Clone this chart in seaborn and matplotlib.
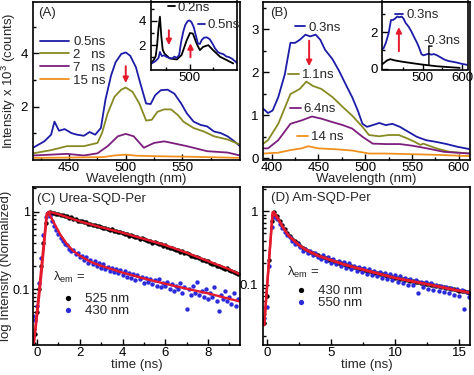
import matplotlib
matplotlib.use("Agg")
import numpy as np
import matplotlib.pyplot as plt
import seaborn as sns
from matplotlib.legend import Legend
from matplotlib.ticker import FixedLocator, MultipleLocator, LogLocator, NullFormatter

# ---------------- data: panel A (Urea-SQD-Per spectra) ----------------
wl_a_05 = [418, 428, 434, 437, 441, 446, 452, 457, 463, 468, 473, 478, 482, 487, 491, 496, 500, 504,
           509, 513, 518, 522, 526, 531, 537, 543, 549, 554, 560, 566, 572, 578, 584, 590, 596, 601]
int_a_05 = [0.46, 0.70, 0.95, 1.44, 1.10, 1.16, 1.01, 0.95, 0.91, 1.05, 0.95, 1.20, 2.25, 3.17, 3.67, 3.98,
            4.04, 3.91, 3.48, 2.86, 2.12, 2.10, 2.43, 2.62, 2.64, 2.49, 2.12, 1.75, 1.44, 1.32, 1.26, 1.07,
            1.01, 0.89, 0.70, 0.52]
wl_a_2 = [418, 434, 448, 463, 475, 479, 484, 490, 496, 500, 506, 512, 518, 523, 528, 534, 540, 546,
          551, 560, 569, 578, 590, 601]
int_a_2 = [0.25, 0.37, 0.52, 0.52, 0.64, 1.01, 1.75, 2.37, 2.64, 2.72, 2.56, 2.12, 1.48, 1.51, 1.81, 1.90,
           1.90, 1.69, 1.44, 1.20, 1.07, 0.89, 0.77, 0.58]
wl_a_7 = [418, 448, 463, 475, 484, 493, 500, 507, 516, 525, 534, 543, 554, 572, 590, 601]
int_a_7 = [0.17, 0.23, 0.17, 0.25, 0.52, 0.89, 0.98, 0.89, 0.46, 0.64, 0.70, 0.62, 0.52, 0.33, 0.28, 0.17]
wl_a_15 = [418, 450, 480, 490, 500, 510, 530, 560, 601]
int_a_15 = [0.08, 0.09, 0.11, 0.17, 0.20, 0.16, 0.14, 0.12, 0.08]
# inset A (0.2 ns)
wl_a_02 = [419, 424, 428, 431, 434, 437, 440, 443, 447, 451, 458, 473, 483, 494, 501, 507, 515, 522,
           529, 540, 550, 565, 579, 593]
int_a_02 = [0.49, 0.8, 1.1, 2.0, 3.4, 4.35, 2.7, 1.6, 1.3, 1.15, 0.9, 0.82, 1.18, 2.4, 3.0, 2.96, 2.14,
            1.59, 1.86, 2.0, 1.59, 1.04, 0.77, 0.49]
labels_a = ["0.5ns", "2   ns", "7   ns", "15 ns"]

# ---------------- data: panel B (Am-SQD-Per spectra) ----------------
wl_b_03 = [391, 396, 401, 407, 414, 420, 425, 430, 436, 441, 447, 452, 457, 465, 472, 479, 486, 492,
           497, 502, 508, 515, 522, 529, 537, 544, 555, 565, 576, 587, 598, 612]
int_b_03 = [1.15, 1.05, 1.11, 1.42, 1.95, 2.68, 2.68, 2.75, 2.87, 2.83, 2.87, 2.75, 2.52, 2.30, 2.03,
            1.72, 1.42, 1.11, 0.80, 0.73, 0.77, 0.82, 0.77, 0.80, 0.73, 0.64, 0.50, 0.42, 0.38, 0.33,
            0.27, 0.21]
wl_b_11 = [391, 396, 407, 420, 430, 437, 444, 453, 465, 476, 486, 497, 504, 515, 525, 536, 545, 553,
           559, 562, 576, 590, 612]
int_b_11 = [0.34, 0.42, 0.80, 1.49, 1.61, 1.78, 1.68, 1.61, 1.42, 1.19, 0.99, 0.73, 0.54, 0.51, 0.54,
            0.54, 0.46, 0.38, 0.31, 0.34, 0.23, 0.15, 0.11]
wl_b_64 = [391, 396, 407, 420, 432, 443, 453, 465, 476, 486, 497, 508, 522, 537, 551, 566, 584, 612]
int_b_64 = [0.23, 0.23, 0.42, 0.80, 0.88, 0.97, 0.92, 0.84, 0.77, 0.69, 0.50, 0.34, 0.33, 0.33, 0.29,
            0.23, 0.15, 0.11]
wl_b_14 = [391, 407, 420, 432, 439, 450, 468, 486, 504, 522, 540, 576, 612]
int_b_14 = [0.11, 0.13, 0.19, 0.23, 0.28, 0.23, 0.21, 0.18, 0.11, 0.11, 0.10, 0.08, 0.05]
# inset B (-0.3 ns)
wl_b_m03 = [398, 410, 418, 430, 451, 493, 535, 594]
int_b_m03 = [0.24, 0.45, 0.52, 0.45, 0.37, 0.24, 0.13, 0.04]
labels_b = ["0.3ns", "1.1ns", "6.4ns", "14 ns"]

# ---------------- data: panel C (decays, ns) ----------------
t_c = [-0.2, -0.1, 0.0, 0.1, 0.2, 0.3, 0.4, 0.5, 0.6, 0.7,
       0.8, 0.9, 1.0, 1.1, 1.2, 1.3, 1.4, 1.5, 1.6, 1.7,
       1.8, 1.9, 2.0, 2.1, 2.2, 2.3, 2.4, 2.5, 2.6, 2.7,
       2.8, 2.9, 3.0, 3.1, 3.2, 3.3, 3.4, 3.5, 3.6, 3.7,
       3.8, 3.9, 4.0, 4.1, 4.2, 4.3, 4.4, 4.5, 4.6, 4.7,
       4.8, 4.9, 5.0, 5.1, 5.2, 5.3, 5.4, 5.5, 5.6, 5.7,
       5.8, 5.9, 6.0, 6.1, 6.2, 6.3, 6.4, 6.5, 6.6, 6.7,
       6.8, 6.9, 7.0, 7.1, 7.2, 7.3, 7.4, 7.5, 7.6, 7.7,
       7.8, 7.9, 8.0, 8.1, 8.2, 8.3, 8.4, 8.5, 8.6, 8.7,
       8.8, 8.9, 9.0, 9.1, 9.2, 9.3, 9.4]
c_525 = [0.020, 0.026, 0.05, 0.10, 0.20, 0.40, 0.72, 0.95, 0.98, 0.96,
         0.97, 0.93, 0.94, 0.90, 0.91, 0.87, 0.88, 0.84, 0.85, 0.80,
         0.81, 0.77, 0.76, 0.75, 0.73, 0.74, 0.70, 0.70, 0.67, 0.68,
         0.65, 0.66, 0.63, 0.62, 0.61, 0.60, 0.58, 0.59, 0.56, 0.56,
         0.54, 0.55, 0.53, 0.52, 0.51, 0.49, 0.50, 0.48, 0.47, 0.47,
         0.45, 0.46, 0.44, 0.43, 0.42, 0.42, 0.40, 0.41, 0.39, 0.38,
         0.38, 0.36, 0.37, 0.35, 0.34, 0.34, 0.33, 0.32, 0.32, 0.30,
         0.31, 0.29, 0.29, 0.28, 0.27, 0.27, 0.26, 0.26, 0.25, 0.24,
         0.24, 0.23, 0.23, 0.22, 0.21, 0.21, 0.20, 0.20, 0.195, 0.19,
         0.18, 0.185, 0.175, 0.17, 0.165, 0.16, 0.155]
c_430 = [0.045, 0.040, 0.06, 0.12, 0.25, 0.50, 0.85, 0.97, 0.88, 0.76,
         0.66, 0.58, 0.52, 0.46, 0.42, 0.38, 0.37, 0.33, 0.31, 0.32,
         0.28, 0.29, 0.26, 0.27, 0.24, 0.26, 0.22, 0.235, 0.21, 0.23,
         0.20, 0.215, 0.19, 0.21, 0.18, 0.195, 0.17, 0.19, 0.165, 0.18,
         0.16, 0.175, 0.15, 0.17, 0.145, 0.16, 0.14, 0.155, 0.13, 0.15,
         0.135, 0.145, 0.12, 0.14, 0.125, 0.135, 0.115, 0.13, 0.11, 0.135,
         0.105, 0.12, 0.11, 0.125, 0.10, 0.115, 0.095, 0.11, 0.10, 0.12,
         0.09, 0.105, 0.056, 0.10, 0.085, 0.11, 0.09, 0.125, 0.085, 0.095,
         0.08, 0.10, 0.075, 0.09, 0.08, 0.105, 0.07, 0.052, 0.085, 0.075,
         0.095, 0.07, 0.08, 0.065, 0.09, 0.06, 0.075]
tfit_c525 = [-0.15, 0.0, 0.15, 0.3, 0.45, 0.55, 1, 2, 3, 4, 5, 6, 7, 8, 9, 9.5]
fit_c525 = [0.02, 0.045, 0.11, 0.3, 0.85, 1.0, 0.93, 0.75, 0.63, 0.535, 0.445, 0.37, 0.295, 0.23, 0.18, 0.155]
tfit_c430 = [-0.15, 0.45, 0.55, 0.7, 0.9, 1.1, 1.4, 1.7, 2.0, 2.5, 3, 4, 5, 6, 7, 8, 9.5]
fit_c430 = [0.02, 0.95, 0.97, 0.80, 0.63, 0.50, 0.38, 0.31, 0.27, 0.225, 0.20, 0.163, 0.137, 0.117,
            0.101, 0.088, 0.069]

# ---------------- data: panel D (decays, ns) ----------------
t_d = [-0.2, 0.0, 0.2, 0.4, 0.6, 0.8, 1.0, 1.2, 1.4, 1.6,
       1.8, 2.0, 2.2, 2.4, 2.6, 2.8, 3.0, 3.2, 3.4, 3.6,
       3.8, 4.0, 4.2, 4.4, 4.6, 4.8, 5.0, 5.2, 5.4, 5.6,
       5.8, 6.0, 6.2, 6.4, 6.6, 6.8, 7.0, 7.2, 7.4, 7.6,
       7.8, 8.0, 8.2, 8.4, 8.6, 8.8, 9.0, 9.2, 9.4, 9.6,
       9.8, 10.0, 10.2, 10.4, 10.6, 10.8, 11.0, 11.2, 11.4, 11.6,
       11.8, 12.0, 12.2, 12.4, 12.6, 12.8, 13.0, 13.2, 13.4, 13.6,
       13.8, 14.0, 14.2, 14.4, 14.6, 14.8, 15.0, 15.2, 15.4, 15.6,
       15.8]
d_430 = [0.030, 0.07, 0.22, 0.75, 0.97, 0.86, 0.74, 0.65, 0.57, 0.50,
         0.46, 0.42, 0.39, 0.37, 0.34, 0.32, 0.31, 0.29, 0.28, 0.27,
         0.26, 0.25, 0.24, 0.24, 0.23, 0.22, 0.22, 0.21, 0.205, 0.20,
         0.195, 0.19, 0.187, 0.18, 0.178, 0.172, 0.17, 0.166, 0.162, 0.16,
         0.155, 0.153, 0.15, 0.146, 0.144, 0.14, 0.138, 0.135, 0.132, 0.13,
         0.127, 0.124, 0.123, 0.12, 0.118, 0.117, 0.115, 0.113, 0.111, 0.11,
         0.108, 0.106, 0.104, 0.103, 0.101, 0.10, 0.098, 0.096, 0.095, 0.093,
         0.092, 0.09, 0.089, 0.087, 0.086, 0.085, 0.083, 0.082, 0.081, 0.079,
         0.078]
d_550 = [0.035, 0.05, 0.18, 0.62, 0.85, 0.78, 0.68, 0.60, 0.53, 0.47,
         0.44, 0.40, 0.36, 0.355, 0.33, 0.29, 0.31, 0.27, 0.29, 0.25,
         0.27, 0.24, 0.225, 0.25, 0.21, 0.235, 0.20, 0.225, 0.19, 0.21,
         0.18, 0.205, 0.17, 0.195, 0.165, 0.18, 0.155, 0.175, 0.15, 0.17,
         0.14, 0.165, 0.135, 0.155, 0.13, 0.15, 0.125, 0.145, 0.12, 0.14,
         0.115, 0.135, 0.11, 0.13, 0.105, 0.125, 0.10, 0.12, 0.098, 0.115,
         0.077, 0.11, 0.092, 0.108, 0.088, 0.104, 0.085, 0.10, 0.082, 0.097,
         0.079, 0.094, 0.076, 0.09, 0.073, 0.088, 0.07, 0.085, 0.046, 0.08,
         0.068]
tfit_d = [-0.2, 0.45, 0.55, 0.7, 0.9, 1.1, 1.3, 1.5, 1.7, 2.0, 2.5, 3.0, 3.5, 4, 5, 6, 7, 8, 9, 10,
          11, 12, 13, 14, 15, 15.85]
fit_d430 = [0.028, 0.97, 0.99, 0.90, 0.80, 0.69, 0.60, 0.53, 0.47, 0.42, 0.35, 0.305, 0.275, 0.25,
            0.218, 0.19, 0.17, 0.153, 0.138, 0.124, 0.115, 0.106, 0.098, 0.09, 0.083, 0.078]
fit_d550 = [0.028, 0.90, 0.93, 0.86, 0.77, 0.67, 0.59, 0.52, 0.465, 0.415, 0.345, 0.30, 0.27, 0.247,
            0.215, 0.188, 0.168, 0.151, 0.136, 0.123, 0.113, 0.105, 0.097, 0.089, 0.082, 0.077]

# ---------------- style ----------------
sns.set_theme(style="ticks")
plt.rcParams['font.family'] = ['Liberation Sans', 'DejaVu Sans']
plt.rcParams['mathtext.fontset'] = 'custom'
plt.rcParams['mathtext.rm'] = 'Liberation Sans'
plt.rcParams['mathtext.it'] = 'Liberation Sans:italic'
plt.rcParams['font.size'] = 9.5

BLUE = '#1c1ca8'
OLIVE = '#878a22'
PURPLE = '#7c1f7c'
ORANGE = '#f0901e'
RED = '#e41a2c'
SBLUE = '#2b2bdc'
FS = 9.5

W, H = 474, 375
fig = plt.figure(figsize=(W / 100, H / 100), dpi=100)


def rect(l, t, r, b):
    return [l / W, 1 - b / H, (r - l) / W, (b - t) / H]


axA = fig.add_axes(rect(33, 1.5, 240, 160))
axB = fig.add_axes(rect(263.3, 1.5, 470, 160))
axC = fig.add_axes(rect(33, 187.3, 240, 345))
axD = fig.add_axes(rect(263.3, 187.3, 470, 345))
axAi = fig.add_axes(rect(151, 1.5, 237, 70))
axBi = fig.add_axes(rect(382.3, 1.5, 468, 69.5))


def style(ax, xpad=1.5, ypad=3.5):
    for s in ax.spines.values():
        s.set_linewidth(1.2)
        s.set_color('black')
    ax.set_facecolor('white')
    ax.tick_params(which='both', direction='in', top=False, right=False, colors='black',
                   labelsize=FS)
    ax.tick_params(which='major', length=4, width=1)
    ax.tick_params(which='minor', length=2.5, width=1)
    ax.tick_params(axis='x', pad=xpad)
    ax.tick_params(axis='y', pad=ypad)


def line(ax, x, y, c, lw=1.3):
    sns.lineplot(x=x, y=y, ax=ax, color=c, lw=lw, estimator=None, sort=False, legend=False)
    return ax.lines[-1]


def tag(ax, h, text, x, y, hl=0.8):
    leg = Legend(ax, [h], [text], loc='center left', bbox_to_anchor=(x, y), frameon=False,
                 handlelength=hl, handletextpad=0.25, borderpad=0, borderaxespad=0, fontsize=FS)
    ax.add_artist(leg)


def arrow(ax, x, y0, y1):
    ax.annotate('', xy=(x, y1), xytext=(x, y0),
                arrowprops=dict(arrowstyle='-|>', color=RED, lw=1.4, mutation_scale=8,
                                shrinkA=0, shrinkB=0))


# ---------------- panel A ----------------
hA = [line(axA, wl_a_05, int_a_05, BLUE), line(axA, wl_a_2, int_a_2, OLIVE),
      line(axA, wl_a_7, int_a_7, PURPLE), line(axA, wl_a_15, int_a_15, ORANGE)]
axA.set_xlim(418, 601)
axA.set_ylim(0, 5.95)
axA.xaxis.set_major_locator(FixedLocator([450, 500, 550]))
axA.xaxis.set_minor_locator(FixedLocator([425, 475, 525, 575]))
axA.yaxis.set_major_locator(FixedLocator([2, 4]))
axA.yaxis.set_minor_locator(FixedLocator([1, 3, 5]))
style(axA)
axA.set_xlabel('Wavelength (nm)', fontsize=FS)
axA.set_ylabel(r'Intensity x 10$^3$ (counts)', fontsize=FS)
axA.xaxis.set_label_coords(0.5, -0.085)
axA.yaxis.set_label_coords(-0.072, 0.5)
axA.legend(hA, labels_a, loc='upper left', bbox_to_anchor=(0.034, 0.783), frameon=False,
           handlelength=2.2, handletextpad=0.3, labelspacing=0.05, borderpad=0,
           borderaxespad=0, fontsize=FS)
axA.text(0.024, 0.925, '(A)', transform=axA.transAxes, fontsize=FS, va='center', ha='left')
arrow(axA, 500, 3.52, 2.89)

# inset A
hAi = [line(axAi, wl_a_02, int_a_02, 'black'), line(axAi, wl_a_05, int_a_05, BLUE)]
axAi.set_xlim(418, 601)
axAi.set_ylim(-0.05, 5.6)
axAi.xaxis.set_major_locator(FixedLocator([500]))
axAi.xaxis.set_minor_locator(FixedLocator([450, 550]))
axAi.yaxis.set_major_locator(FixedLocator([2, 4]))
axAi.yaxis.set_minor_locator(FixedLocator([1, 3, 5]))
style(axAi)
tag(axAi, hAi[0], '0.2ns', 0.198, 0.913, hl=0.5)
tag(axAi, hAi[1], '0.5ns', 0.547, 0.652, hl=0.5)
arrow(axAi, 456, 3.23, 2.0)
arrow(axAi, 502, 1.0, 2.16)

# ---------------- panel B ----------------
hB = [line(axB, wl_b_03, int_b_03, BLUE), line(axB, wl_b_11, int_b_11, OLIVE),
      line(axB, wl_b_64, int_b_64, PURPLE), line(axB, wl_b_14, int_b_14, ORANGE)]
axB.set_xlim(391, 612)
axB.set_ylim(-0.04, 3.64)
axB.xaxis.set_major_locator(MultipleLocator(50))
axB.xaxis.set_minor_locator(MultipleLocator(25))
axB.yaxis.set_major_locator(MultipleLocator(1))
axB.yaxis.set_minor_locator(MultipleLocator(0.5))
style(axB)
axB.set_xlabel('Wavelength (nm)', fontsize=FS)
axB.xaxis.set_label_coords(0.5, -0.085)
for h, lab, x, y in zip(hB, labels_b, [0.153, 0.12, 0.129, 0.163], [0.836, 0.535, 0.321, 0.145]):
    tag(axB, h, lab, x, y)
axB.text(0.032, 0.925, '(B)', transform=axB.transAxes, fontsize=FS, va='center', ha='left')
arrow(axB, 440, 2.73, 2.14)

# inset B
hBi = [line(axBi, wl_b_03, int_b_03, BLUE), line(axBi, wl_b_m03, int_b_m03, 'black')]
axBi.set_xlim(398, 615)
axBi.set_ylim(-0.05, 3.7)
axBi.xaxis.set_major_locator(FixedLocator([500, 600]))
axBi.xaxis.set_minor_locator(FixedLocator([450, 550]))
axBi.yaxis.set_major_locator(FixedLocator([0, 2]))
axBi.yaxis.set_minor_locator(FixedLocator([1, 3]))
style(axBi)
tag(axBi, hBi[0], '0.3ns', 0.148, 0.796, hl=0.6)
axBi.text(501, 1.52, '-0.3ns', fontsize=FS, va='center', ha='left')
axBi.annotate('', xy=(516, 0.22), xytext=(516, 1.24),
              arrowprops=dict(arrowstyle='-', color='black', lw=1, shrinkA=0, shrinkB=0))
axBi.annotate('', xy=(524, 1.24), xytext=(516, 1.24),
              arrowprops=dict(arrowstyle='-', color='black', lw=1, shrinkA=0, shrinkB=0))
arrow(axBi, 440, 0.96, 2.29)


# ---------------- panels C and D ----------------
def decay_axes(ax):
    ax.set_yscale('log')
    ax.yaxis.set_major_locator(FixedLocator([0.1, 1]))
    ax.set_yticklabels(['0.1', '1'])
    ax.yaxis.set_minor_locator(LogLocator(base=10, subs=[2, 3, 4, 5, 6, 7, 8, 9]))
    ax.yaxis.set_minor_formatter(NullFormatter())


SZ = 10
sns.scatterplot(x=t_c, y=c_525, ax=axC, color='black', s=SZ, linewidth=0, legend=False)
hc1 = axC.collections[-1]
sns.scatterplot(x=t_c, y=c_430, ax=axC, color=SBLUE, s=SZ, linewidth=0, legend=False)
hc2 = axC.collections[-1]
line(axC, tfit_c525, fit_c525, RED, lw=1.7)
line(axC, tfit_c430, fit_c430, RED, lw=1.7)
decay_axes(axC)
axC.set_xlim(-0.19, 9.5)
axC.set_ylim(0.0189, 2.07)
axC.xaxis.set_major_locator(MultipleLocator(2))
axC.xaxis.set_minor_locator(MultipleLocator(1))
style(axC, ypad=2)
axC.tick_params(axis='y', labelsize=9)
axC.set_xlabel('time (ns)', fontsize=FS)
axC.set_ylabel('log Intensity (Normalized)', fontsize=FS)
axC.xaxis.set_label_coords(0.5, -0.088)
axC.yaxis.set_label_coords(-0.102, 0.5)
axC.text(0.019, 0.926, '(C) Urea-SQD-Per', transform=axC.transAxes, fontsize=FS, va='center')
axC.text(0.097, 0.431, r'λ$_{\rm em}$ =', transform=axC.transAxes, fontsize=FS, va='center')
axC.legend([hc1, hc2], ['525 nm', '430 nm'], loc='upper left', bbox_to_anchor=(0.138, 0.333),
           frameon=False, handlelength=1.0, handletextpad=0.8, labelspacing=0.0, borderpad=0,
           borderaxespad=0, fontsize=FS, scatterpoints=1, markerscale=1.2)

sns.scatterplot(x=t_d, y=d_430, ax=axD, color='black', s=SZ, linewidth=0, legend=False)
hd1 = axD.collections[-1]
sns.scatterplot(x=t_d, y=d_550, ax=axD, color=SBLUE, s=SZ, linewidth=0, legend=False)
hd2 = axD.collections[-1]
line(axD, tfit_d, fit_d430, RED, lw=1.7)
line(axD, tfit_d, fit_d550, RED, lw=1.7)
decay_axes(axD)
axD.set_xlim(-0.27, 15.85)
axD.set_ylim(0.015, 2.13)
axD.xaxis.set_major_locator(MultipleLocator(5))
axD.xaxis.set_minor_locator(MultipleLocator(2.5))
style(axD)
axD.set_xlabel('time (ns)', fontsize=FS)
axD.xaxis.set_label_coords(0.5, -0.088)
axD.text(0.037, 0.932, '(D) Am-SQD-Per', transform=axD.transAxes, fontsize=FS, va='center')
axD.text(0.115, 0.457, r'λ$_{\rm em}$ =', transform=axD.transAxes, fontsize=FS, va='center')
axD.legend([hd1, hd2], ['430 nm', '550 nm'], loc='upper left', bbox_to_anchor=(0.149, 0.384),
           frameon=False, handlelength=1.0, handletextpad=0.8, labelspacing=0.0, borderpad=0,
           borderaxespad=0, fontsize=FS, scatterpoints=1, markerscale=1.2)

fig.savefig('out.png', dpi=100)
